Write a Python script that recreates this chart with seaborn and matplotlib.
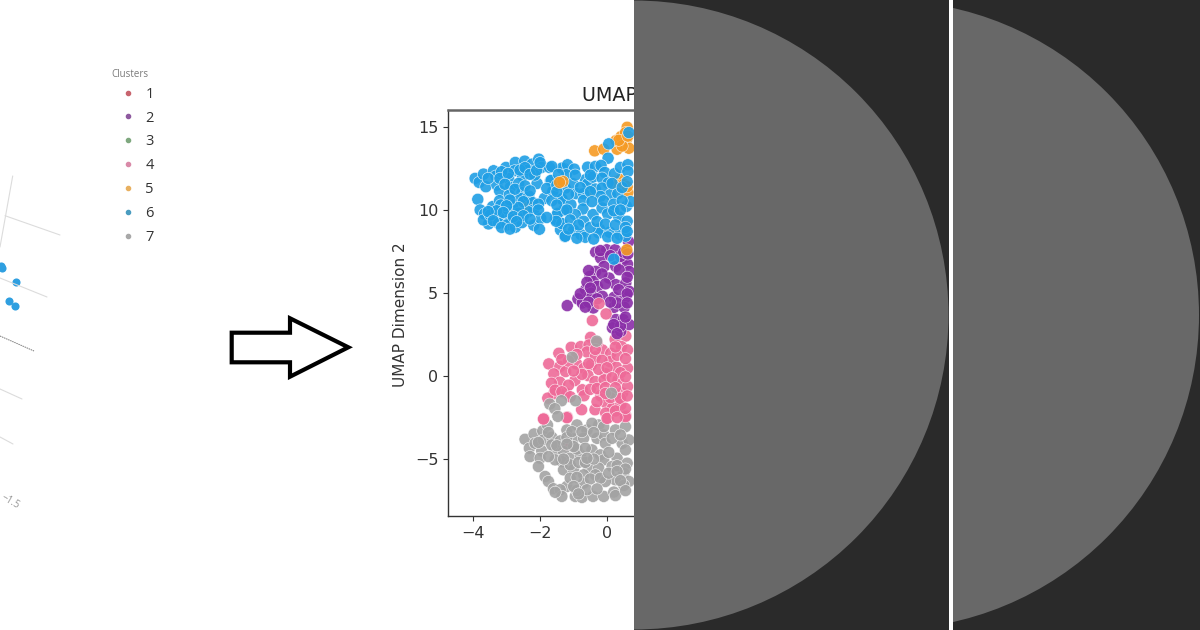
import pandas as pd
import seaborn as sns
import matplotlib.pyplot as plt
from matplotlib.lines import Line2D
from matplotlib.patches import Circle, Polygon, Rectangle

# UMAP points, in data units
under_pts = [(-1.2, -4.15), (-2.16, 12.16), (-2.36, 10.2)]
under_clusters = [4, 5, 5]
gray_pts = [(-2.45, -3.81), (-2.18, -3.49), (-1.92, -3.31), (-1.78, -2.95), (-2.32, -4.35), (-2.15, -4.05),
            (-1.9, -3.85), (-1.65, -3.69), (-1.4, -3.91), (-1.2, -3.25), (-0.9, -2.95), (-0.6, -3.25),
            (-0.25, -2.95), (-0.3, -3.75), (-0.1, -3.55), (0.25, -3.25), (0.55, -3.05), (-1.0, -3.79),
            (-0.7, -3.75), (-2.3, -4.85), (-1.95, -4.51), (-2.0, -4.95), (-1.55, -4.45), (-1.3, -4.55),
            (-1.1, -4.95), (-0.8, -4.75), (-0.45, -4.45), (-0.2, -4.75), (-0.1, -5.05), (0.3, -4.95),
            (0.6, -5.25), (0.45, -4.05), (0.65, -3.85), (-2.05, -5.45), (-1.85, -6.05), (-1.75, -6.35),
            (-1.35, -5.15), (-1.3, -5.65), (-1.0, -5.65), (-0.55, -5.51), (-0.25, -5.55), (0.15, -5.45),
            (-0.7, -5.95), (-0.35, -5.95), (0.5, -5.85), (0.65, -6.35), (0.25, -6.25), (-0.05, -6.35),
            (-0.7, -6.45), (-1.2, -6.65), (-1.6, -6.79), (-1.4, -6.85), (-1.35, -7.25), (-0.95, -7.25),
            (-0.75, -7.31), (-0.42, -7.25), (-0.1, -7.25), (0.2, -6.99), (0.5, -6.59), (-1.1, -6.15),
            (-1.55, -5.05), (-1.75, -3.4), (-2.05, -4.0), (-1.65, -4.15), (-1.2, -3.7), (-1.05, -3.35),
            (-0.75, -3.35), (-0.45, -2.85), (-0.1, -3.05), (-0.4, -3.4), (-0.05, -4.05), (0.15, -3.75),
            (0.4, -3.55), (0.55, -4.45), (-1.75, -4.85), (-1.1, -5.35), (-0.85, -5.2), (-0.65, -5.2),
            (-0.9, -4.4), (-0.65, -4.35), (-0.4, -5.0), (-0.6, -4.95), (0.05, -4.6), (0.3, -5.4),
            (0.55, -5.6), (-0.9, -6.1), (-0.5, -6.2), (-0.2, -6.15), (0.05, -5.85), (0.3, -5.75),
            (0.4, -6.3), (-0.9, -6.9), (-0.6, -6.85), (-0.3, -6.8), (-1.0, -6.65), (-1.55, -7.0),
            (-0.85, -7.1), (0.25, -7.2), (0.55, -6.9), (-1.3, -5.0), (-1.5, -4.2), (-1.0, -4.25),
            (-1.2, -4.1)]
pink_pts = [(-0.49, 2.33), (0.24, 2.21), (0.56, 2.41), (-1.44, 1.37), (-1.07, 1.73),
            (-0.79, 1.77), (-0.54, 1.87), (-0.14, 1.57), (0.11, 1.37), (0.43, 1.77), (0.61, 1.57),
            (-1.74, 0.73), (-1.41, 0.57), (-0.91, 0.73), (-0.69, 0.47), (-0.47, 0.67), (-1.24, 0.27),
            (-1.59, 0.13), (-0.57, 0.03), (0.09, 0.87), (0.28, 0.53), (-0.04, 0.13), (0.61, 0.47),
            (-0.36, -0.33), (-0.09, -0.23), (0.33, -0.23), (-0.96, -0.27), (-1.41, -0.37), (-1.66, -0.43),
            (-0.74, -0.83), (-1.59, -1.07), (-1.24, -1.03), (-0.69, -1.19), (-0.19, -1.19), (0.46, -1.03),
            (0.61, -0.63), (0.26, -1.13), (-0.03, -1.63), (0.16, -1.93), (0.41, -1.73), (-0.76, -2.03),
            (-0.36, -2.03), (-0.04, -2.23), (0.56, -2.39), (-1.19, -2.47), (-1.89, -2.57), (-1.77, -1.33),
            (0.03, -2.53), (-1.9, -2.59), (-1.2, -2.51), (0.0, -2.55), (0.55, -2.45), (-0.3, 2.0),
            (-0.6, 1.45), (-0.9, 1.3), (-0.35, 1.15), (-0.15, 0.95), (0.3, 1.25), (0.55, 1.05),
            (-1.15, 0.9), (-1.35, 1.0), (-0.75, 0.1), (-1.0, 0.3), (-0.25, 0.4), (0.0, 0.5), (0.4, 0.2),
            (0.15, -0.1), (0.55, -0.05), (-1.55, -0.85), (-1.15, -0.55), (-0.5, -0.8), (-0.3, -0.75),
            (-0.05, -0.7), (0.25, -0.7), (0.1, -1.3), (0.4, -1.35), (0.6, -1.2), (-0.05, -1.05),
            (-0.3, -1.55), (-1.35, -0.95), (-1.1, -1.25), (0.25, -2.1), (0.3, -2.5), (0.55, -1.95),
            (-0.35, 1.6), (0.25, 1.75), (-0.55, 0.75)]
purple_pts = [(-0.34, 7.46), (-0.01, 7.6), (0.24, 7.6), (-0.19, 7.1), (0.64, 8.1), (0.53, 7.1), (0.61, 6.74),
              (-0.09, 6.6), (-0.34, 6.3), (0.26, 6.6), (0.06, 5.9), (-0.51, 6.0), (-0.41, 5.7), (-0.29, 5.4),
              (-0.64, 5.2), (0.26, 5.5), (0.56, 5.6), (-0.54, 4.8), (-0.87, 4.64), (-0.74, 4.4), (-0.41, 4.1),
              (-1.19, 4.24), (-0.14, 4.8), (0.21, 4.74), (0.53, 4.7), (0.21, 4.14), (0.51, 4.14), (0.66, 5.1),
              (0.26, 3.4), (0.48, 3.4), (0.16, 2.9), (0.41, 2.7), (0.66, 3.1), (0.66, 6.3), (-0.49, 5.0),
              (0.36, 6.4), (-0.2, 7.55), (0.1, 7.25), (0.4, 7.2), (-0.15, 6.15), (-0.55, 6.35), (-0.05, 5.55),
              (-0.6, 5.65), (-0.5, 5.3), (-0.8, 4.95), (-0.3, 4.65), (-0.55, 4.45), (-0.65, 4.15), (0.35, 5.2),
              (0.6, 4.95), (0.3, 4.4), (0.6, 4.4), (0.1, 4.45), (0.6, 5.95), (0.4, 3.0), (0.55, 3.55), (0.2, 3.1),
              (0.5, 7.45), (0.62, 7.35), (0.3, 2.55)]
orange_pts = [(-0.37, 13.56), (-0.1, 13.66), (0.3, 13.66), (0.27, 14.18), (0.42, 14.42), (0.58, 14.26),
              (0.65, 13.72), (0.6, 14.98), (0.28, 11.72), (0.4, 11.82), (0.25, 11.52), (-0.42, 11.12),
              (0.62, 11.06), (0.45, 13.85), (0.55, 14.65), (0.35, 14.2),
              (0.62, 14.45), (0.5, 11.55), (0.6, 11.4)]
blue_pts = [(-3.94, 11.9), (-3.82, 11.66), (-3.69, 12.16), (-3.62, 11.4), (-3.39, 12.36), (-3.32, 12.04),
            (-3.02, 12.56), (-2.74, 12.86), (-2.46, 12.94), (-2.24, 12.76), (-2.04, 13.06), (-1.96, 12.56),
            (-1.72, 12.56), (-2.76, 12.36), (-2.52, 12.04), (-2.36, 12.4), (-2.94, 11.9), (-2.89, 11.36),
            (-3.29, 11.5), (-3.21, 11.16), (-2.64, 11.6), (-2.09, 11.6), (-2.16, 12.1), (-1.69, 11.76),
            (-1.29, 12.5), (-3.86, 10.64), (-3.79, 10.0), (-3.66, 9.76), (-3.42, 10.2), (-3.21, 10.56),
            (-3.17, 10.3), (-2.92, 10.9), (-2.82, 10.3), (-2.54, 11.04), (-2.59, 10.7), (-2.34, 10.84),
            (-2.22, 10.44), (-2.19, 10.0), (-1.87, 10.7), (-1.62, 11.1), (-1.34, 10.64), (-2.64, 9.8),
            (-2.94, 9.6), (-3.24, 9.6), (-3.54, 9.16), (-3.24, 9.2), (-3.69, 9.4), (-2.99, 9.1), (-2.74, 8.96),
            (-2.54, 9.24), (-2.19, 9.08), (-1.98, 9.5), (-2.02, 8.84), (-1.46, 9.8), (-1.54, 9.44),
            (-1.34, 9.16), (-1.39, 8.8), (-1.26, 8.4), (-2.96, 10.04), (-2.36, 9.9), (-3.49, 9.7),
            (0.05, 13.98), (0.03, 13.12), (0.65, 14.66), (-1.35, 12.52), (-1.18, 12.72), (-0.98, 12.46),
            (-0.58, 12.58), (-0.35, 12.62), (-0.18, 12.68), (-0.07, 12.26), (0.22, 12.18), (0.4, 12.56),
            (0.62, 12.72), (0.62, 12.32), (-1.65, 12.62), (-1.67, 11.78), (-1.22, 12.12), (-1.25, 11.32),
            (-1.02, 11.58), (-0.65, 11.82), (-0.58, 11.58), (-0.42, 11.98), (-0.15, 11.92), (0.03, 11.62),
            (-0.35, 11.26), (-0.15, 11.32), (0.1, 10.92), (0.32, 10.98), (-0.2, 10.82), (-0.92, 10.98),
            (-0.7, 10.98), (-0.7, 10.58), (-1.35, 10.66), (-1.62, 11.12), (-1.65, 10.56), (-1.08, 10.32),
            (-0.72, 10.06), (-1.3, 9.98), (-1.48, 9.78), (-0.95, 9.72), (-0.42, 9.72), (-0.15, 10.12),
            (0.02, 9.76), (0.35, 9.58), (0.6, 9.32), (0.58, 10.22), (-0.7, 9.32), (-1.35, 9.18), (-1.52, 9.32),
            (-1.0, 8.78), (-1.25, 8.42), (-0.78, 8.52), (-0.65, 8.36), (-0.23, 8.86), (-0.25, 8.62),
            (0.08, 8.66), (0.02, 8.38), (0.38, 8.52), (0.55, 8.42), (0.7, 10.5), (-3.55, 11.9), (-3.15, 12.3),
            (-3.2, 11.9), (-2.95, 12.2), (-2.6, 12.4), (-2.45, 12.55), (-2.3, 12.15), (-2.1, 12.4), (-2.0, 12.85),
            (-3.05, 11.55), (-2.75, 11.25), (-2.45, 11.45), (-2.3, 11.15), (-2.5, 10.5), (-2.65, 10.15),
            (-2.9, 10.6), (-3.0, 10.25), (-3.3, 9.95), (-3.55, 9.9), (-3.1, 9.85), (-2.8, 9.6), (-2.5, 9.65),
            (-2.3, 9.45), (-2.7, 9.3), (-3.4, 9.35), (-3.15, 8.95), (-2.9, 8.85), (-2.05, 10.35), (-2.05, 10.0),
            (-1.8, 11.3), (-1.5, 11.5), (-1.5, 10.3), (-1.2, 10.0), (-1.15, 10.95), (-1.45, 12.15), (-1.5, 11.1),
            (-1.1, 9.4), (-0.85, 9.1), (-0.5, 8.95), (-0.95, 12.1), (-0.8, 11.35), (-0.5, 11.1), (-0.45, 10.5),
            (-0.1, 10.55), (0.2, 10.35), (0.45, 10.55), (0.2, 9.95), (0.4, 10.0), (-0.3, 9.3), (-0.05, 9.15),
            (0.25, 9.1), (0.55, 8.95), (-0.5, 12.1), (0.15, 11.6), (0.45, 11.35), (0.6, 11.7), (-1.8, 9.55),
            (-1.15, 8.85), (-0.9, 8.3), (-0.4, 8.25), (0.3, 8.3), (0.6, 8.7)]
# few points that sit on top of another cluster
stray_pts = [(-1.32, 11.72), (-1.42, 11.66), (0.2, 7.04), (0.59, 7.6), (-0.24, 4.36), (-0.03, 3.74),
             (-0.44, 3.34), (-0.31, 2.1), (-1.04, 1.13), (0.13, -1.03), (-0.94, -1.49), (-1.36, -1.49),
             (-1.71, -1.69), (-1.56, -1.97), (-1.47, -2.43)]
stray_clusters = [5, 5, 6, 5, 4, 4, 4, 7, 7, 7, 7, 7, 7, 7, 7]

umap_colors = {2: "#8a2ea8", 4: "#ee6a98", 5: "#f59a23", 6: "#1f9fe5", 7: "#a3a3a3"}

legend_labels = ["1", "2", "3", "4", "5", "6", "7"]
legend_colors = ["#c8646e", "#8e5a9f", "#7fa87f", "#d98aa8", "#e8b060", "#4a9cc0", "#a8a8a8"]

# bits of the cropped 3D plot on the left, in picture pixels
grid_lines = [((12.7, 0), (176, 247)), ((5, 60), (215.7, 235)), ((0, 47), (278, 297)),
              ((0, 22), (389, 399)), ((0, 13), (437, 444))]
dark_line = ((0, 34), (336, 351))
dots_x = [1.7, 0.5, 16, 8.7, 14.7]
dots_y = [268, 266, 282, 301, 306]

arrow_x = [231.7, 290, 290, 348.3, 290, 290, 231.7]
arrow_y = [332.7, 332.7, 318.3, 347.3, 376.7, 362.3, 362.3]


def umap_frame() -> pd.DataFrame:
    rows = [(p[0], p[1], c) for p, c in zip(under_pts, under_clusters)]
    groups = [(gray_pts, 7), (pink_pts, 4), (purple_pts, 2), (orange_pts, 5), (blue_pts, 6)]
    rows += [(x, y, c) for pts, c in groups for x, y in pts]
    rows += [(p[0], p[1], c) for p, c in zip(stray_pts, stray_clusters)]
    return pd.DataFrame(rows, columns=["x", "y", "cluster"])


sns.set_style("white")
plt.rcParams["font.family"] = ["DejaVu Sans"]
fig = plt.figure(figsize=(12, 6.3), dpi=100, facecolor="white")

# scatter panel
ax = fig.add_axes([448 / 1200, 1 - 516 / 630, 432 / 1200, 406 / 630])
sns.scatterplot(data=umap_frame(), x="x", y="y", hue="cluster", palette=umap_colors, s=76,
                edgecolor="white", linewidth=0.4, alpha=0.9, legend=False, ax=ax)
ax.set_xlim(-4.75, 8.15)
ax.set_ylim(-8.43, 16.02)
ax.set_xticks([-4, -2, 0, 2, 4, 6, 8])
ax.set_yticks([-5, 0, 5, 10, 15])
ax.tick_params(labelsize=11.5, length=3.5, width=0.8, color="#333333", labelcolor="#333333",
               left=True, bottom=True)
ax.set_xlabel("")
ax.set_ylabel("UMAP Dimension 2", fontsize=11, color="#333333", labelpad=5, y=0.496)
for side in ["left", "bottom"]:
    ax.spines[side].set_color("#333333")
    ax.spines[side].set_linewidth(1.0)
ax.spines["top"].set_color("#666666")
ax.spines["top"].set_linewidth(1.8)
ax.text(134 / 432, 1.012, "UMAP Projection of Clusters", transform=ax.transAxes, fontsize=13.8,
        color="#222222", ha="left", va="bottom")

# everything else sits on a picture-sized layer on top
over = fig.add_axes([0, 0, 1, 1], zorder=5)
over.set_xlim(0, 1200)
over.set_ylim(630, 0)
over.axis("off")

for xs, ys in grid_lines:
    over.plot(xs, ys, color="#dcdcdc", linewidth=0.8)
over.plot(dark_line[0], dark_line[1], color="#777777", linewidth=0.7, linestyle=(0, (1.5, 0.8)))
sns.scatterplot(x=dots_x, y=dots_y, color="#2f9fe0", s=34, linewidth=0, legend=False, ax=over)
over.text(1.5, 497, "\u22121.5", fontsize=7, color="#999999", rotation=-30, ha="left", va="center",
          family="Open Sans", rotation_mode="anchor")

over.add_patch(Polygon(list(zip(arrow_x, arrow_y)), closed=True, facecolor="white", edgecolor="black",
                       linewidth=3.0, joinstyle="miter"))

# dark panels with the big gray discs
left_panel = Rectangle((634, 0), 315, 630, facecolor="#2a2a2a", edgecolor="none")
right_panel = Rectangle((953, 0), 247, 630, facecolor="#2a2a2a", edgecolor="none")
over.add_patch(left_panel)
over.add_patch(right_panel)
left_disc = Circle((634, 315), 314.5, facecolor="#686868", edgecolor="none")
right_disc = Circle((884.4, 315), 314.6, facecolor="#686868", edgecolor="none")
over.add_patch(left_disc)
over.add_patch(right_disc)
left_disc.set_clip_path(left_panel)
right_disc.set_clip_path(right_panel)

handles = [Line2D([], [], linestyle="none", marker="o", markersize=3.0, color=c) for c in legend_colors]
leg = over.legend(handles, legend_labels, title="Clusters", loc="upper left",
                  bbox_to_anchor=(100 / 1200, 1 - 57 / 630), bbox_transform=fig.transFigure,
                  frameon=False, alignment="left", title_fontsize=7, labelspacing=0.61,
                  handletextpad=0.1, handlelength=2.2, borderpad=0.3,
                  prop={"family": "Open Sans", "size": 10.5})
leg._legend_box.sep = 5.0
leg.get_title().set_color("#7a7a7a")
leg.get_title().set_family("Open Sans")
for t in leg.get_texts():
    t.set_color("#333333")

fig.savefig("out.png", dpi=100)
plt.close(fig)
